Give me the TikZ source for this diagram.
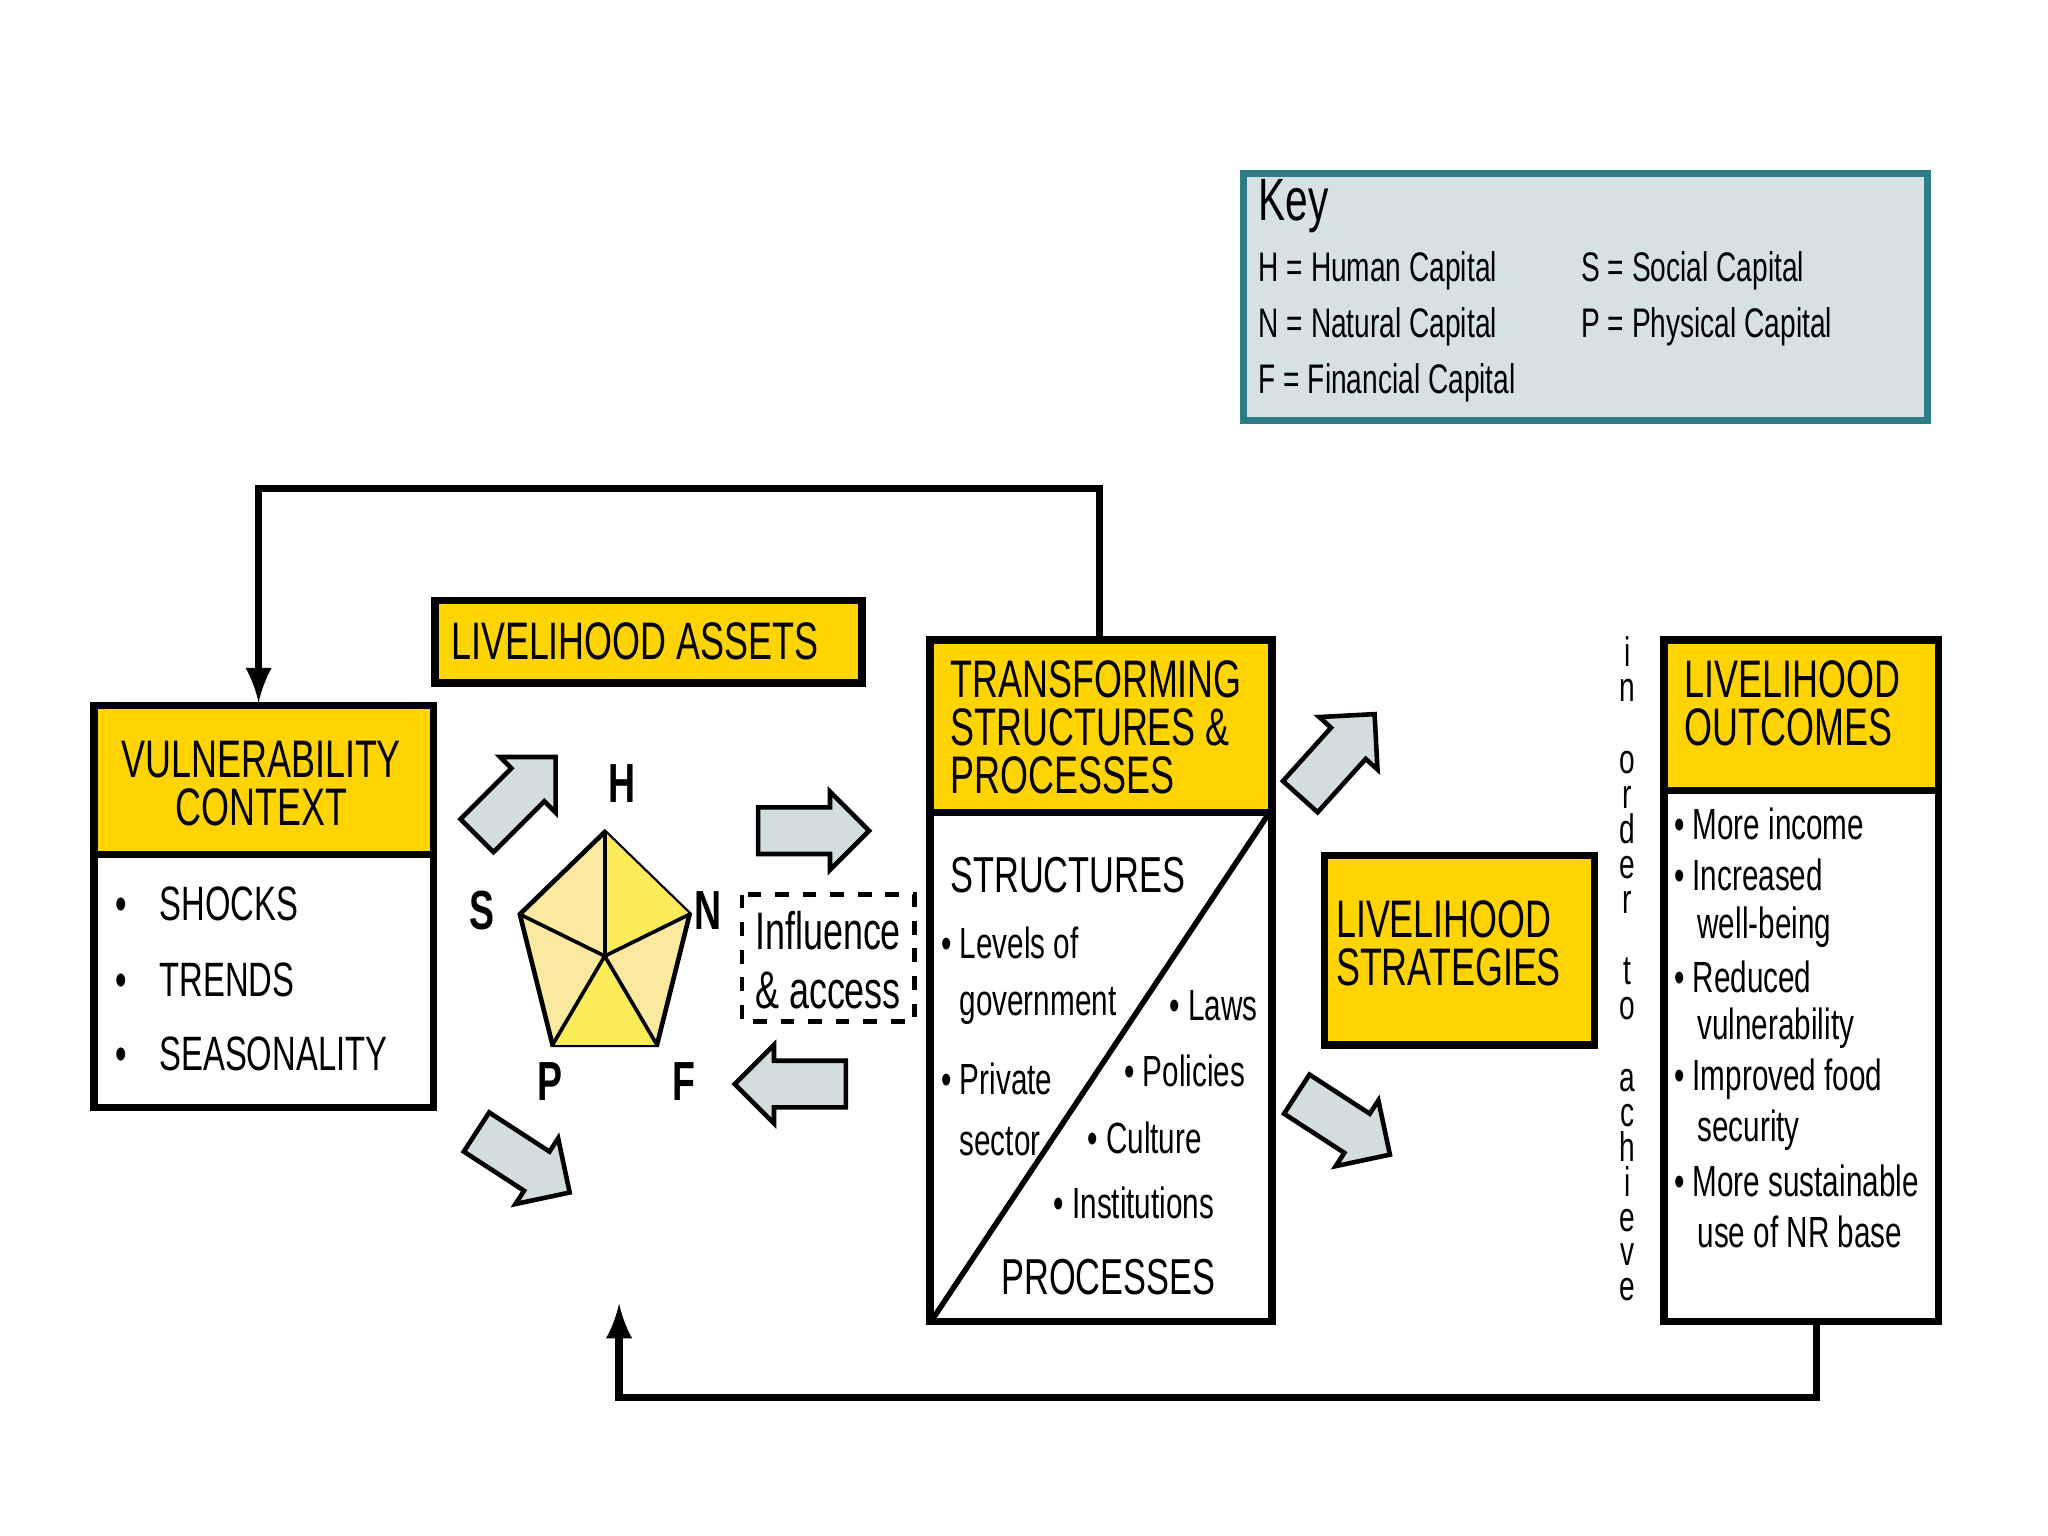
\documentclass[tikz,border=0pt]{standalone}
\usepackage{fontspec}
\setmainfont{Liberation Sans}[FakeStretch=0.68]
\usetikzlibrary{shapes.arrows,shapes.geometric}
\definecolor{hdr}{HTML}{FFD400}
\definecolor{keyfill}{HTML}{D6E1E4}
\definecolor{keyline}{HTML}{2E7C86}
\definecolor{arr}{HTML}{D3DDE0}
\definecolor{pent}{HTML}{FBE9A0}
\tikzset{
  box/.style={draw,line width=1.6pt,fill=white},
  head/.style={draw,line width=1.6pt,fill=hdr},
  htext/.style={font=\fontsize{11.5}{10.5}\selectfont,align=left,inner sep=0pt},
  btext/.style={font=\fontsize{9.5}{11}\selectfont,anchor=west,inner sep=0pt},
  fat/.style={single arrow,draw,line width=1pt,fill=arr,minimum height=0.85cm,
    minimum width=0.6cm,single arrow head extend=0.08cm,inner sep=0.1cm},
  feed/.style={line width=1.6pt,-latex}
}
\begin{document}
\begin{tikzpicture}[x=0.01cm,y=-0.01cm]
\useasboundingbox (0,0) rectangle (1568,1176);
% key
\draw[line width=1.5pt,draw=keyline,fill=keyfill] (952,133) rectangle (1476,322);
\node[anchor=west,font=\fontsize{13}{14}\selectfont,inner sep=0pt] (key) at (963,158) {Key};
\foreach \t/\x/\y in {H = Human Capital/963/207, N = Natural Capital/963/250,
  F = Financial Capital/963/293, S = Social Capital/1210/207, P = Physical Capital/1210/250}
  \node[btext,font=\fontsize{9}{11}\selectfont] at (\x,\y) {\t};
% vulnerability
\draw[box] (72,540) rectangle (332,848);
\draw[head] (72,540) rectangle (332,654);
\node[htext,align=center] (vul) at (200,600) {VULNERABILITY\\CONTEXT};
\foreach \t/\y in {SHOCKS/692,TRENDS/750,SEASONALITY/807}
  \node[btext,font=\fontsize{10.5}{12}\selectfont] at (88,\y) {\textbullet\hspace{7pt}\t};
% assets
\draw[head] (333,460) rectangle (660,523);
\node[htext] (assets) at (486,491) {LIVELIHOOD ASSETS};
% pentagon
\coordinate (pc) at (463,732);
\coordinate (ph) at (463,637);
\coordinate (pn) at (528,700);
\coordinate (pf) at (503,800);
\coordinate (pp) at (423,800);
\coordinate (ps) at (398,700);
\draw[line width=1pt,fill=pent] (ph)--(pn)--(pf)--(pp)--(ps)--cycle;
\fill[yellow!45!pent] (pc)--(ph)--(pn)--cycle (pc)--(pf)--(pp)--cycle;
\foreach \v in {ph,pn,pf,pp,ps} \draw[line width=0.8pt] (pc)--(\v);
\foreach \t/\x/\y in {H/476/600,N/542/697,S/369/697,P/421/828,F/524/828}
  \node[font=\bfseries\fontsize{12}{13}\selectfont] at (\x,\y) {\t};
% influence
\draw[line width=1pt,dashed] (568,685) rectangle (700,782);
\node[font=\fontsize{11.5}{13}\selectfont,align=left] (infl) at (634,735) {Influence\\\& access};
% fat arrows
\node[fat,rotate=45] (a1) at (389,616) {};
\node[fat,rotate=-33] (a2) at (393,885) {};
\node[fat] (a3) at (614,636) {};
\node[fat,rotate=180] (a4) at (614,830) {};
\node[fat,rotate=48] (a5) at (1018,585) {};
\node[fat,rotate=-33] (a6) at (1021,856) {};
% transforming
\draw[box] (712,490) rectangle (974,1012);
\draw[head] (712,490) rectangle (974,622);
\node[htext,anchor=north west] (trans) at (727,505) {TRANSFORMING\\STRUCTURES \&\\PROCESSES};
\draw[line width=1.2pt] (714,1010)--(972,622);
\node[btext,font=\fontsize{11}{13}\selectfont] at (727,670) {STRUCTURES};
\node[btext,font=\fontsize{11}{13}\selectfont] at (766,978) {PROCESSES};
\node[btext] at (720,722) {\textbullet\ Levels of};
\node[btext] at (734,770) {government};
\node[btext] at (720,826) {\textbullet\ Private};
\node[btext] at (734,874) {sector};
\node[btext] at (895,770) {\textbullet\ Laws};
\node[btext] at (860,820) {\textbullet\ Policies};
\node[btext] at (832,871) {\textbullet\ Culture};
\node[btext] at (806,921) {\textbullet\ Institutions};
% strategies
\draw[head] (1014,655) rectangle (1221,800);
\node[htext] (strat) at (1109,722) {LIVELIHOOD\\STRATEGIES};
% vertical text
\node[font=\fontsize{9}{7.6}\selectfont,align=center,inner sep=0pt] (order) at (1246,742)
  {i\\n\\[8pt]o\\r\\d\\e\\r\\[8pt]t\\o\\[8pt]a\\c\\h\\i\\e\\v\\e};
% outcomes
\draw[box] (1274,490) rectangle (1484,1012);
\draw[head] (1274,490) rectangle (1484,605);
\node[htext,anchor=north west] (outc) at (1289,505) {LIVELIHOOD\\OUTCOMES};
\foreach \t/\y in {More income/631,Increased/670,Reduced/748,Improved food/826,More sustainable/904}
  \node[btext] at (1281,\y) {\textbullet\ \t};
\foreach \t/\y in {well-being/710,vulnerability/787,security/865,use of NR base/943}
  \node[btext] at (1299,\y) {\t};
% feedback loops
\coordinate (t1) at (842,490);
\coordinate (t2) at (198,538);
\coordinate (b1) at (1391,1012);
\coordinate (b2) at (474,998);
\draw[feed] (t1) |- (520,374) -| (t2);
\draw[feed] (b1) |- (900,1070) -| (b2);
\end{tikzpicture}
\end{document}
